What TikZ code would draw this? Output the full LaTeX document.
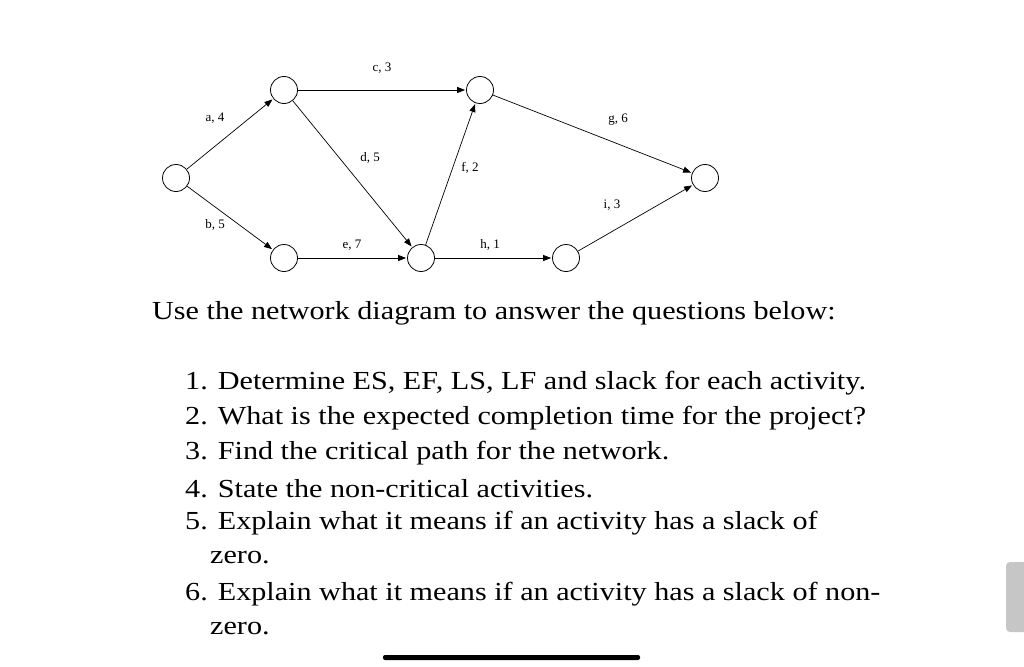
\documentclass[tikz,border=0pt]{standalone}
\usepackage{fontspec}
\setmainfont{Liberation Serif}
\usetikzlibrary{arrows.meta}
\newcommand{\wq}[1]{\scalebox{1.16}[1]{#1}}
\begin{document}
\begin{tikzpicture}[x=1pt,y=-1pt,
  ev/.style={circle,draw,thick,minimum size=27pt,inner sep=0pt},
  act/.style={draw,line width=0.7pt,-{Triangle[length=8pt,width=6pt]},shorten >=1pt},
  lab/.style={font=\fontsize{13}{15}\selectfont,inner sep=1pt},
  q/.style={font=\fontsize{26}{30}\selectfont,anchor=west,inner sep=0pt}]
\useasboundingbox (0,0) rectangle (1024,666);
\node[ev] (n1) at (176,178) {};
\node[ev] (n2) at (284,90) {};
\node[ev] (n3) at (480,90) {};
\node[ev] (n4) at (284,258) {};
\node[ev] (n5) at (421,258) {};
\node[ev] (n6) at (566,258) {};
\node[ev] (n7) at (705,178) {};
\draw[act] (n1) -- (n2);
\draw[act] (n1) -- (n4);
\draw[act] (n2) -- (n3);
\draw[act] (n2) -- (n5);
\draw[act] (n4) -- (n5);
\draw[act] (n5) -- (n3);
\draw[act] (n5) -- (n6);
\draw[act] (n3) -- (n7);
\draw[act] (n6) -- (n7);
\node[lab] (la) at (215,118) {a, 4};
\node[lab] (lb) at (215,225) {b, 5};
\node[lab] (lc) at (382,68) {c, 3};
\node[lab] (ld) at (370,158) {d, 5};
\node[lab] (le) at (352,245) {e, 7};
\node[lab] (lf) at (470,168) {f, 2};
\node[lab] (lg) at (618,120) {g, 6};
\node[lab] (lh) at (490,245) {h, 1};
\node[lab] (li) at (612,205) {i, 3};
\node[q] (t0) at (152,313) {\wq{Use the network diagram to answer the questions below:}};
\node[q] (t1) at (185,383) {\wq{1. Determine ES, EF, LS, LF and slack for each activity.}};
\node[q] (t2) at (185,418) {\wq{2. What is the expected completion time for the project?}};
\node[q] (t3) at (185,453) {\wq{3. Find the critical path for the network.}};
\node[q] (t4) at (185,489) {\wq{4. State the non-critical activities.}};
\node[q] (t5) at (185,523) {\wq{5. Explain what it means if an activity has a slack of}};
\node[q] (t5b) at (210,558) {\wq{zero.}};
\node[q] (t6) at (185,594) {\wq{6. Explain what it means if an activity has a slack of non-}};
\node[q] (t6b) at (210,629) {\wq{zero.}};
\fill[gray!45,rounded corners=4pt] (1006,562) rectangle (1030,632);
\fill[black,rounded corners=2pt] (383,655) rectangle (640,660);
\end{tikzpicture}
\end{document}
